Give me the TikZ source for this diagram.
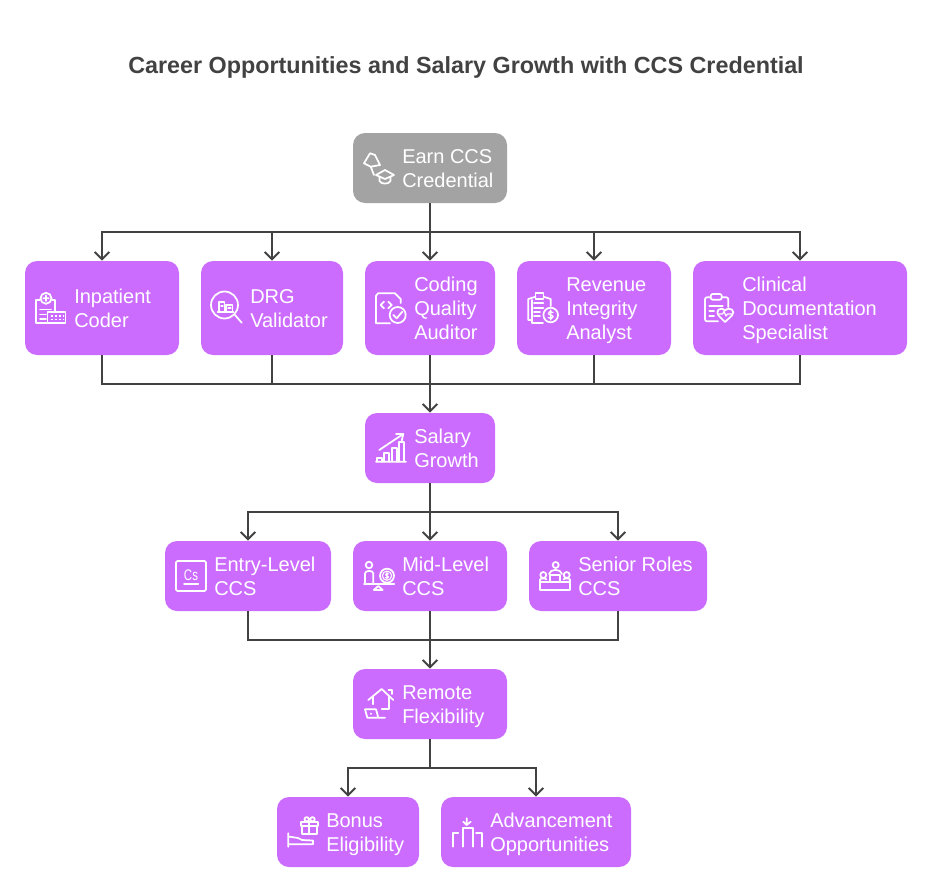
\documentclass[tikz,border=0pt]{standalone}
\usepackage{fontspec}
\setmainfont{Liberation Sans}
\usetikzlibrary{arrows.meta}
\definecolor{purp}{HTML}{CC6CFF}
\definecolor{grayb}{HTML}{A3A3A3}
\definecolor{ink}{HTML}{424242}
\newcommand{\lns}[1]{\strut #1\strut}
\tikzset{
  x=0.75pt,y=-0.75pt,
  cbox/.style={fill=purp,rounded corners=9pt,inner sep=0pt,draw=none},
  gbox/.style={cbox,fill=grayb},
  wh/.style 2 args={minimum width=#1*0.75pt,minimum height=#2*0.75pt},
  lbl/.style={anchor=west,inner sep=0pt,align=left,text=white,yshift=-1.65pt,font=\fontsize{15}{18}\selectfont},
  conn/.style={draw=ink,line width=1.5pt,-{Straight Barb[length=5.5pt,width=11pt,line width=1.5pt]}},
  plain/.style={draw=ink,line width=1.5pt},
  ic/.style={draw=white,line width=1.3pt,line join=round,line cap=round},
}
\begin{document}
\begin{tikzpicture}
\useasboundingbox (0,0) rectangle (932,878);
\fill[white] (0,0) rectangle (932,878);
\node[anchor=center,inner sep=0pt,text=ink,font=\fontsize{17.5}{22}\selectfont\bfseries] (title) at (466,67.5) {Career Opportunities and Salary Growth with CCS Credential};
% boxes
\node[gbox,wh={154}{70}] (earn) at (430,168) {};
\node[cbox,wh={154}{94}] (inp) at (102,308) {};
\node[cbox,wh={142}{94}] (drg) at (272,308) {};
\node[cbox,wh={130}{94}] (cod) at (430,308) {};
\node[cbox,wh={154}{94}] (rev) at (594,308) {};
\node[cbox,wh={214}{94}] (cli) at (800,308) {};
\node[cbox,wh={130}{70}] (sal) at (430,448) {};
\node[cbox,wh={166}{70}] (ent) at (248,576) {};
\node[cbox,wh={154}{70}] (mid) at (430,576) {};
\node[cbox,wh={178}{70}] (sen) at (618,576) {};
\node[cbox,wh={154}{70}] (rem) at (430,704) {};
\node[cbox,wh={142}{70}] (bon) at (348,832) {};
\node[cbox,wh={190}{70}] (adv) at (536,832) {};
% labels
\node[lbl] (earnT) at (402,168) {\lns{Earn CCS\\Credential}};
\node[lbl] (inpT) at (74,308) {\lns{Inpatient\\Coder}};
\node[lbl] (drgT) at (250,308) {\lns{DRG\\Validator}};
\node[lbl] (codT) at (414,308) {\lns{Coding\\Quality\\Auditor}};
\node[lbl] (revT) at (566,308) {\lns{Revenue\\Integrity\\Analyst}};
\node[lbl] (cliT) at (742,308) {\lns{Clinical\\Documentation\\Specialist}};
\node[lbl] (salT) at (414,448) {\lns{Salary\\Growth}};
\node[lbl] (entT) at (214,576) {\lns{Entry-Level\\CCS}};
\node[lbl] (midT) at (402,576) {\lns{Mid-Level\\CCS}};
\node[lbl] (senT) at (578,576) {\lns{Senior Roles\\CCS}};
\node[lbl] (remT) at (402,704) {\lns{Remote\\Flexibility}};
\node[lbl] (bonT) at (326,832) {\lns{Bonus\\Eligibility}};
\node[lbl] (advT) at (490,832) {\lns{Advancement\\Opportunities}};
% connectors
\coordinate (b1) at (430,232);
\coordinate (b2) at (430,384);
\coordinate (b3) at (430,512);
\coordinate (b4) at (430,640);
\coordinate (b5) at (430,768);
\draw[plain] (earn.south) -- (b1);
\foreach \t in {inp,drg,cod,rev,cli} \draw[conn] (b1) -| (\t.north);
\foreach \t in {inp,drg,cod,rev,cli} \draw[plain] (\t.south) |- (b2);
\draw[conn] (b2) -- (sal.north);
\draw[plain] (sal.south) -- (b3);
\foreach \t in {ent,mid,sen} \draw[conn] (b3) -| (\t.north);
\foreach \t in {ent,mid,sen} \draw[plain] (\t.south) |- (b4);
\draw[conn] (b4) -- (rem.north);
\draw[plain] (rem.south) -- (b5);
\foreach \t in {bon,adv} \draw[conn] (b5) -| (\t.north);
% icons
% earn
\draw[ic] (364,163.3) -- (370,153.3) -- (375,155) -- (380,165) -- (370.7,166.7) -- cycle (370.7,166.7) -- (374,175);
\draw[ic] (376,175) -- (385,170) -- (394,175) -- (385,179) -- cycle (379.5,177.5) -- (379.5,181) .. controls (381,184.5) and (389,184.5) .. (390.5,181) -- (390.5,177.5);
% inpatient
\draw[ic] (46,298.3) circle (5.5) (46,295.5) -- (46,301) (43.2,298.3) -- (48.8,298.3);
\draw[ic] (40,300) -- (36,300) -- (36,323) -- (47.5,323) (52,300) -- (55,300) -- (55,311);
\draw[ic] (40,309.5) -- (51,309.5) (40,314.5) -- (46,314.5) (40,319) -- (46,319);
\draw[ic] (47.5,312) rectangle (65.5,323);
\draw[ic,line width=0.9pt,dash pattern=on 1.5pt off 1.5pt,line cap=butt] (50.5,316) -- (63,316) (50.5,319.5) -- (63,319.5);
% drg
\draw[ic] (224.5,305) circle (13.5) (235,315) -- (241.7,322.7);
\draw[ic,line width=0.95pt] (219,312) -- (219,302) -- (224.5,302) -- (224.5,312) (226,312) -- (226,305) -- (232.7,305) -- (232.7,312) (217.5,312) -- (233.5,312) (221,306) -- (223,306) (228,308) -- (231,308);
% coding
\draw[ic] (400.7,303) -- (400.7,299) -- (395,293.3) -- (378,293.3) -- (376,295.7) -- (376,323.3) -- (390,323.3);
\draw[ic] (397.7,315) circle (8) (393.3,315) -- (396.7,318.3) -- (402.3,311.7);
\draw[ic] (384,301.7) -- (380.7,305) -- (384,308.3) (388.3,301.7) -- (391.7,305) -- (388.3,308.3);
% revenue
\draw[ic] (531.7,320) -- (528.3,320) -- (528.3,299) -- (535.5,296.7) (543.5,296.7) -- (550.7,299) -- (550.7,306);
\draw[ic] (535.5,298.7) -- (535.5,293.3) -- (543.5,293.3) -- (543.5,298.7) -- cycle;
\draw[ic] (532,300) -- (532,323) -- (543,323);
\draw[ic] (534,303.3) -- (543.3,303.3) (534,307.7) -- (543.3,307.7) (534,311.7) -- (540,311.7) (534,315.7) -- (540,315.7);
\draw[ic] (550.7,315) circle (7.3);
\draw[ic,line width=0.95pt] (553,312.5) .. controls (551.5,310.8) and (548,311.5) .. (548.3,313.4) .. controls (548.6,315.3) and (553.3,314.8) .. (553.2,316.8) .. controls (553,318.8) and (549.5,319.2) .. (548.2,317.5) (550.7,310) -- (550.7,320);
% clinical
\draw[ic,rounded corners=1.5pt] (710.7,297.3) -- (705,297.3) -- (705,321.3) -- (718,321.3) (721.7,297.3) -- (728.3,297.3) -- (728.3,307);
\draw[ic,rounded corners=1.5pt] (710.7,294) rectangle (721.7,299.7);
\draw[ic] (709.3,306.3) -- (722.7,306.3) (709.3,311.3) -- (714,311.3) (709.3,316.3) -- (714,316.3);
\draw[ic] (725,322) -- (718.5,315.5) .. controls (715,311) and (720,306) .. (725,310.5) .. controls (730,306) and (736,311) .. (732,315.5) -- cycle;
\draw[ic,line width=0.9pt] (719,314) -- (722.5,314) -- (724,311.5) -- (726,316) -- (727.5,314) -- (731.5,314);
% salary
\draw[ic] (376,461.7) -- (406,461.7) (379.3,450) -- (403.3,434) (396,434) -- (403.3,434) -- (401.7,440.7);
\draw[ic] (377.3,461.7) -- (377.3,457.7) -- (381.7,457.7) -- (381.7,461.7) (384,461.7) -- (384,453.3) -- (389.3,453.3) -- (389.3,461.7) (392,461.7) -- (392,447.7) -- (396.7,447.7) -- (396.7,461.7) (399.3,461.7) -- (399.3,442.3) -- (404.3,442.3) -- (404.3,461.7);
% entry
\draw[ic,rounded corners=1pt] (176,561) rectangle (206,591);
\node[inner sep=0pt,text=white,transform shape,xscale=0.75,font=\fontsize{11.5}{13}\selectfont] (csT) at (191,575.5) {Cs};
\draw[ic] (184,584.3) -- (198.3,584.3);
% mid
\draw[ic] (369,565) circle (3.3);
\draw[ic] (365,583.3) -- (365,573.5) .. controls (365,570) and (373.3,570) .. (373.3,573.5) -- (373.3,583.3);
\draw[ic] (364,584.3) -- (394.3,584.3);
\draw[ic] (378.3,586) -- (373.8,590) -- (382.7,590) -- cycle;
\draw[ic] (387,575.7) circle (7);
\draw[ic,line width=0.8pt] (387,575.7) circle (4.6);
\draw[ic,line width=0.8pt] (388.6,574) .. controls (387.6,572.8) and (385.3,573.3) .. (385.5,574.7) .. controls (385.7,576) and (388.7,575.6) .. (388.6,577) .. controls (388.5,578.4) and (386,578.6) .. (385.3,577.4) (387,572.3) -- (387,579);
% senior
\draw[ic] (555.7,565) circle (3) (543.3,575) circle (3) (566.7,575) circle (3);
\draw[ic] (549,574) .. controls (550,568.5) and (561,568.5) .. (562,574);
\draw[ic] (540,590) rectangle (570,581.7) (550,581.7) -- (550,575) -- (560,575) -- (560,581.7);
\draw[ic] (540,581.7) -- (540,579.5) .. controls (541,578) and (545.5,578) .. (546.5,579.5) (570,581.7) -- (570,579.5) .. controls (569,578) and (564.5,578) .. (563.5,579.5);
% remote
\draw[ic] (368.3,700) -- (381.7,689) -- (393.3,700);
\draw[ic] (389.3,696.7) -- (389.3,709.3) -- (381.7,709.3) (373.3,696.7) -- (373.3,704.3) (388.5,690) -- (391.7,690) -- (391.7,694);
\draw[ic] (365,709.3) -- (376,709.3) -- (378.3,717.7) -- (367.3,717.7) -- cycle (378.3,717.7) -- (385,717.7);
\fill[white] (371,713.7) circle (1.1);
% bonus
\draw[ic] (302.3,825.7) -- (302.3,834.3) -- (317.3,834.3) -- (317.3,825.7);
\draw[ic] (300.7,821.7) rectangle (318.3,825.7) (309.3,821.7) -- (309.3,834.3);
\draw[ic] (306.7,819.3) circle (2.2) (312.5,819.3) circle (2.2);
\draw[ic] (288.3,833.3) -- (288.3,846.7) (288.3,836.5) -- (298,838) -- (302,840) -- (313,840.5) -- (313,844.3) -- (288.3,844.3);
% advancement
\draw[ic] (466.7,818.3) -- (466.7,825) (463.3,821.7) -- (466.7,825) -- (470.7,821.7);
\draw[ic] (462.7,846.7) -- (462.7,828.3) -- (472.7,828.3) -- (472.7,846.7) (452.7,846.7) -- (452.7,833.3) -- (458.3,833.3) (476,833.3) -- (481.7,833.3) -- (481.7,846.7);
\end{tikzpicture}
\end{document}
